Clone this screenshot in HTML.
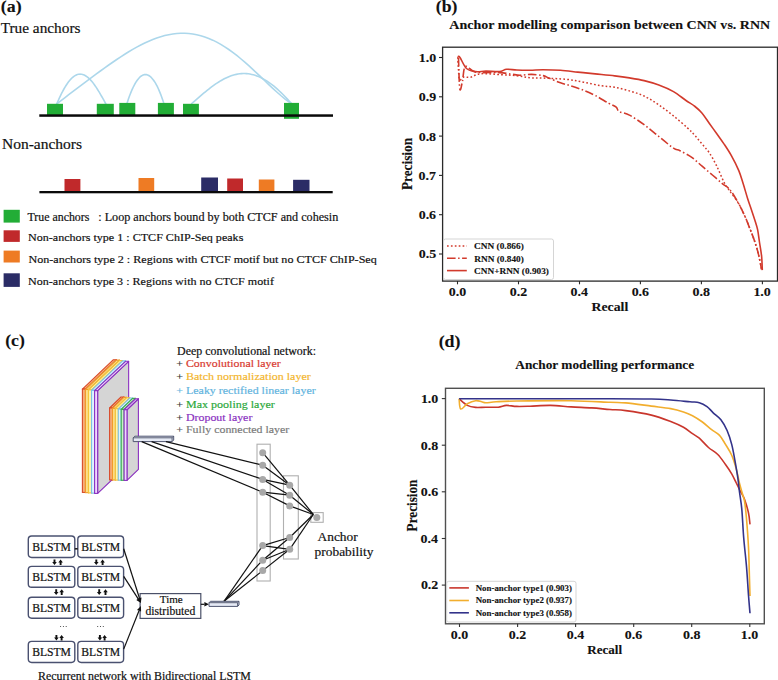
<!DOCTYPE html>
<html><head><meta charset="utf-8"><style>
html,body{margin:0;padding:0;background:#fff;}
body{width:778px;height:680px;overflow:hidden;}
svg{display:block;font-family:"Liberation Serif",serif;}
</style></head><body>
<svg width="778" height="680" viewBox="0 0 778 680" font-family="'Liberation Serif', serif">
<rect width="778" height="680" fill="#fff"/>
<g fill="none" stroke="#acd7eb" stroke-width="1.6" stroke-linecap="round">
<polyline points="56.70,103.96 60.70,100.85 64.70,97.76 68.71,94.70 72.71,91.65 76.71,88.61 80.71,85.59 84.71,82.58 88.71,79.59 92.72,76.61 96.72,73.66 100.72,70.74 104.72,67.85 108.72,65.01 112.72,62.22 116.73,59.50 120.73,56.84 124.73,54.27 128.73,51.79 132.73,49.42 136.73,47.16 140.74,45.03 144.74,43.04 148.74,41.20 152.74,39.52 156.74,38.02 160.74,36.70 164.75,35.58 168.75,34.67 172.75,33.97 176.75,33.49 180.75,33.24 184.75,33.24 188.76,33.47 192.76,33.95 196.76,34.69 200.76,35.68 204.76,36.92 208.76,38.41 212.77,40.15 216.77,42.14 220.77,44.37 224.77,46.83 228.77,49.51 232.77,52.40 236.78,55.48 240.78,58.75 244.78,62.16 248.78,65.72 252.78,69.38 256.78,73.13 260.79,76.94 264.79,80.76 268.79,84.57 272.79,88.32 276.79,91.98 280.79,95.50 284.80,98.82 288.80,101.90 292.80,104.68"/>
<polyline points="56.70,104.03 57.53,102.10 58.37,100.21 59.20,98.37 60.04,96.58 60.87,94.85 61.70,93.18 62.54,91.56 63.37,90.00 64.21,88.51 65.04,87.08 65.87,85.72 66.71,84.44 67.54,83.22 68.37,82.07 69.21,81.00 70.04,80.00 70.88,79.08 71.71,78.23 72.54,77.47 73.38,76.78 74.21,76.17 75.05,75.64 75.88,75.19 76.71,74.82 77.55,74.53 78.38,74.32 79.22,74.20 80.05,74.15 80.88,74.18 81.72,74.28 82.55,74.47 83.38,74.73 84.22,75.07 85.05,75.49 85.89,75.97 86.72,76.53 87.55,77.16 88.39,77.86 89.22,78.62 90.06,79.45 90.89,80.35 91.72,81.30 92.56,82.31 93.39,83.38 94.23,84.50 95.06,85.67 95.89,86.89 96.73,88.15 97.56,89.46 98.39,90.80 99.23,92.18 100.06,93.59 100.90,95.03 101.73,96.49 102.56,97.97 103.40,99.46 104.23,100.97 105.07,102.49 105.90,104.00"/>
<polyline points="127.10,103.02 127.72,101.13 128.34,99.30 128.96,97.53 129.58,95.84 130.20,94.20 130.82,92.64 131.44,91.13 132.06,89.69 132.68,88.32 133.30,87.02 133.92,85.77 134.54,84.60 135.16,83.49 135.78,82.44 136.41,81.46 137.03,80.55 137.65,79.70 138.27,78.91 138.89,78.19 139.51,77.54 140.13,76.95 140.75,76.43 141.37,75.97 141.99,75.58 142.61,75.25 143.23,74.99 143.85,74.79 144.47,74.66 145.09,74.59 145.71,74.59 146.33,74.65 146.95,74.78 147.57,74.98 148.19,75.24 148.81,75.56 149.43,75.96 150.05,76.41 150.67,76.93 151.29,77.52 151.91,78.17 152.53,78.89 153.15,79.67 153.77,80.52 154.39,81.43 155.02,82.41 155.64,83.45 156.26,84.56 156.88,85.74 157.50,86.98 158.12,88.28 158.74,89.65 159.36,91.09 159.98,92.59 160.60,94.15 161.22,95.79 161.84,97.48 162.46,99.24 163.08,101.07 163.70,102.96"/>
<polyline points="191.70,103.51 193.41,102.04 195.13,100.56 196.84,99.07 198.55,97.59 200.27,96.11 201.98,94.65 203.69,93.21 205.41,91.79 207.12,90.39 208.84,89.03 210.55,87.70 212.26,86.41 213.98,85.17 215.69,83.97 217.40,82.82 219.12,81.73 220.83,80.69 222.54,79.72 224.26,78.80 225.97,77.96 227.68,77.18 229.40,76.47 231.11,75.83 232.83,75.27 234.54,74.79 236.25,74.38 237.97,74.05 239.68,73.81 241.39,73.64 243.11,73.56 244.82,73.56 246.53,73.65 248.25,73.82 249.96,74.07 251.67,74.41 253.39,74.83 255.10,75.34 256.82,75.93 258.53,76.61 260.24,77.37 261.96,78.21 263.67,79.12 265.38,80.12 267.10,81.20 268.81,82.35 270.52,83.58 272.24,84.88 273.95,86.24 275.66,87.68 277.38,89.18 279.09,90.74 280.81,92.36 282.52,94.04 284.23,95.77 285.95,97.55 287.66,99.38 289.37,101.25 291.09,103.16 292.80,105.10"/>
</g>
<rect x="47" y="103.8" width="16" height="11.200000000000003" fill="#22ad36"/>
<rect x="96.8" y="103.8" width="17.0" height="11.200000000000003" fill="#22ad36"/>
<rect x="119.3" y="102.9" width="16.000000000000014" height="12.099999999999994" fill="#22ad36"/>
<rect x="157.9" y="102.9" width="16.0" height="12.099999999999994" fill="#22ad36"/>
<rect x="183" y="103.8" width="15.900000000000006" height="11.200000000000003" fill="#22ad36"/>
<rect x="284" y="102.9" width="15" height="15.899999999999991" fill="#22ad36"/>
<rect x="39.3" y="114.3" width="293.7" height="2.5" fill="#0a0a0a"/>
<rect x="64.5" y="179" width="15.900000000000006" height="13" fill="#c0292b"/>
<rect x="138.5" y="178" width="15.699999999999989" height="14" fill="#ee7b24"/>
<rect x="201.2" y="177.5" width="16.80000000000001" height="14.5" fill="#2b2c66"/>
<rect x="227.2" y="178.5" width="15.800000000000011" height="13.5" fill="#c0292b"/>
<rect x="258.8" y="179.5" width="15.599999999999966" height="12.5" fill="#ee7b24"/>
<rect x="293.1" y="179.8" width="16.399999999999977" height="12.199999999999989" fill="#2b2c66"/>
<rect x="39.4" y="191" width="293.3" height="2.3" fill="#0a0a0a"/>
<rect x="3.6" y="209.8" width="16.2" height="12.799999999999983" fill="#22ad36"/>
<rect x="3.6" y="230.3" width="16.2" height="11.599999999999994" fill="#c0292b"/>
<rect x="3.6" y="250.6" width="16.2" height="11.900000000000006" fill="#ee7b24"/>
<rect x="3.6" y="273.3" width="16.2" height="13.599999999999966" fill="#2b2c66"/>
<path d="M457.70,57.20 C458.05,57.20 458.33,55.32 459.80,57.20 C461.27,59.08 463.85,66.10 466.50,68.50 C469.15,70.90 472.45,71.17 475.70,71.60 C478.95,72.03 482.05,71.10 486.00,71.10 C489.95,71.10 495.97,71.90 499.40,71.60 C502.83,71.30 503.70,69.57 506.60,69.30 C509.50,69.03 512.90,69.85 516.80,70.00 C520.70,70.15 525.62,70.23 530.00,70.20 C534.38,70.17 538.02,69.78 543.10,69.80 C548.18,69.82 554.72,69.92 560.50,70.30 C566.28,70.68 572.02,71.50 577.80,72.10 C583.58,72.70 589.05,73.27 595.20,73.90 C601.35,74.53 609.00,75.23 614.70,75.90 C620.40,76.57 624.50,77.12 629.40,77.90 C634.30,78.68 639.20,79.42 644.10,80.60 C649.00,81.78 653.90,83.17 658.80,85.00 C663.70,86.83 668.97,89.02 673.50,91.60 C678.03,94.18 682.42,98.02 686.00,100.50 C689.58,102.98 692.32,104.38 695.00,106.50 C697.68,108.62 699.70,110.37 702.10,113.20 C704.50,116.03 706.95,120.07 709.40,123.50 C711.85,126.93 714.35,130.37 716.80,133.80 C719.25,137.23 721.65,140.42 724.10,144.10 C726.55,147.78 729.05,151.48 731.50,155.90 C733.95,160.32 736.85,165.95 738.80,170.60 C740.75,175.25 741.73,179.15 743.20,183.80 C744.67,188.45 746.22,194.13 747.60,198.50 C748.98,202.87 750.30,206.42 751.50,210.00 C752.70,213.58 753.78,216.72 754.80,220.00 C755.82,223.28 756.80,225.87 757.60,229.70 C758.40,233.53 758.93,238.58 759.60,243.00 C760.27,247.42 761.15,251.68 761.60,256.20 C762.05,260.72 762.18,267.78 762.30,270.10" fill="none" stroke="#d23a2c" stroke-width="1.6" stroke-linejoin="round"/>
<path d="M457.70,57.20 C457.83,59.33 458.20,66.20 458.50,70.00 C458.80,73.80 458.68,78.80 459.50,80.00 C460.32,81.20 461.55,77.67 463.40,77.20 C465.25,76.73 467.70,77.78 470.60,77.20 C473.50,76.62 475.67,74.12 480.80,73.70 C485.93,73.28 495.40,74.37 501.40,74.70 C507.40,75.03 512.03,75.18 516.80,75.70 C521.57,76.22 525.62,77.40 530.00,77.80 C534.38,78.20 537.05,77.85 543.10,78.10 C549.15,78.35 559.55,78.62 566.30,79.30 C573.05,79.98 577.82,81.13 583.60,82.20 C589.38,83.27 595.82,84.87 601.00,85.70 C606.18,86.53 609.97,86.33 614.70,87.20 C619.43,88.07 624.50,89.43 629.40,90.90 C634.30,92.37 639.20,93.67 644.10,96.00 C649.00,98.33 653.90,101.58 658.80,104.90 C663.70,108.22 668.73,112.07 673.50,115.90 C678.27,119.73 683.87,124.67 687.40,127.90 C690.93,131.13 692.25,132.60 694.70,135.30 C697.15,138.00 699.65,141.17 702.10,144.10 C704.55,147.03 706.95,149.22 709.40,152.90 C711.85,156.58 714.35,161.28 716.80,166.20 C719.25,171.12 722.05,178.43 724.10,182.40 C726.15,186.37 726.72,186.53 729.10,190.00 C731.48,193.47 735.75,198.78 738.40,203.20 C741.05,207.62 743.02,212.08 745.00,216.50 C746.98,220.92 748.75,225.73 750.30,229.70 C751.85,233.67 752.97,236.32 754.30,240.30 C755.63,244.28 757.08,248.73 758.30,253.60 C759.52,258.47 761.05,266.85 761.60,269.50" fill="none" stroke="#d23a2c" stroke-width="1.5" stroke-dasharray="1.7,2.2"/>
<path d="M458.50,58.00 C458.72,63.17 459.13,85.17 459.80,89.00 C460.47,92.83 461.57,84.75 462.50,81.00 C463.43,77.25 463.20,67.98 465.40,66.50 C467.60,65.02 470.03,71.08 475.70,72.10 C481.37,73.12 493.40,72.25 499.40,72.60 C505.40,72.95 508.27,73.77 511.70,74.20 C515.13,74.63 516.68,75.17 520.00,75.20 C523.32,75.23 527.75,74.33 531.60,74.40 C535.45,74.47 540.22,74.98 543.10,75.60 C545.98,76.22 546.00,76.90 548.90,78.10 C551.80,79.30 556.63,81.45 560.50,82.80 C564.37,84.15 568.25,84.95 572.10,86.20 C575.95,87.45 579.75,88.75 583.60,90.30 C587.45,91.85 591.00,93.32 595.20,95.50 C599.40,97.68 605.30,101.47 608.80,103.40 C612.30,105.33 614.48,105.75 616.20,107.10 C617.92,108.45 616.90,110.17 619.10,111.50 C621.30,112.83 625.23,112.90 629.40,115.10 C633.57,117.30 639.20,121.13 644.10,124.70 C649.00,128.27 653.90,132.58 658.80,136.50 C663.70,140.42 669.97,145.83 673.50,148.20 C677.03,150.57 676.95,149.17 680.00,150.70 C683.05,152.23 688.12,154.82 691.80,157.40 C695.48,159.98 698.67,163.27 702.10,166.20 C705.53,169.13 708.98,172.07 712.40,175.00 C715.82,177.93 719.67,181.35 722.60,183.80 C725.53,186.25 727.37,186.47 730.00,189.70 C732.63,192.93 735.90,198.73 738.40,203.20 C740.90,207.67 743.02,212.08 745.00,216.50 C746.98,220.92 748.75,225.73 750.30,229.70 C751.85,233.67 752.97,236.32 754.30,240.30 C755.63,244.28 757.08,248.73 758.30,253.60 C759.52,258.47 761.05,266.85 761.60,269.50" fill="none" stroke="#d23a2c" stroke-width="1.6" stroke-dasharray="8.6,2.5,1.5,2.5"/>
<rect x="442.6" y="47.2" width="334.9" height="233.9" fill="none" stroke="#2a2a2a" stroke-width="1.3"/>
<line x1="439" y1="57.5" x2="442.6" y2="57.5" stroke="#2a2a2a" stroke-width="1.1"/>
<line x1="439" y1="96.8" x2="442.6" y2="96.8" stroke="#2a2a2a" stroke-width="1.1"/>
<line x1="439" y1="136.1" x2="442.6" y2="136.1" stroke="#2a2a2a" stroke-width="1.1"/>
<line x1="439" y1="175.4" x2="442.6" y2="175.4" stroke="#2a2a2a" stroke-width="1.1"/>
<line x1="439" y1="214.7" x2="442.6" y2="214.7" stroke="#2a2a2a" stroke-width="1.1"/>
<line x1="439" y1="254.0" x2="442.6" y2="254.0" stroke="#2a2a2a" stroke-width="1.1"/>
<line x1="457.5" y1="281" x2="457.5" y2="284.3" stroke="#2a2a2a" stroke-width="1.1"/>
<line x1="518.5" y1="281" x2="518.5" y2="284.3" stroke="#2a2a2a" stroke-width="1.1"/>
<line x1="579.5" y1="281" x2="579.5" y2="284.3" stroke="#2a2a2a" stroke-width="1.1"/>
<line x1="640.4" y1="281" x2="640.4" y2="284.3" stroke="#2a2a2a" stroke-width="1.1"/>
<line x1="701.4" y1="281" x2="701.4" y2="284.3" stroke="#2a2a2a" stroke-width="1.1"/>
<line x1="762.4" y1="281" x2="762.4" y2="284.3" stroke="#2a2a2a" stroke-width="1.1"/>
<rect x="443.5" y="239" width="110" height="40.5" rx="2" fill="#fff" fill-opacity="0.85" stroke="#d0d0d0" stroke-width="0.9"/>
<line x1="447" y1="245.9" x2="466.8" y2="245.9" stroke="#d23a2c" stroke-width="1.5" stroke-dasharray="1.7,2.2"/>
<line x1="447" y1="258.3" x2="466.8" y2="258.3" stroke="#d23a2c" stroke-width="1.6" stroke-dasharray="8.6,2.5,1.5,2.5"/>
<line x1="447" y1="270.6" x2="466.8" y2="270.6" stroke="#d23a2c" stroke-width="1.6"/>
<path d="M459.10,398.70 C460.47,399.82 464.55,403.95 467.30,405.40 C470.05,406.85 472.52,407.10 475.60,407.40 C478.68,407.70 482.03,407.23 485.80,407.20 C489.57,407.17 494.77,407.50 498.20,407.20 C501.63,406.90 503.32,405.53 506.40,405.40 C509.48,405.27 512.77,406.27 516.70,406.40 C520.63,406.53 524.35,406.37 530.00,406.20 C535.65,406.03 543.75,405.28 550.60,405.40 C557.45,405.52 564.25,406.48 571.10,406.90 C577.95,407.32 585.22,407.47 591.70,407.90 C598.18,408.33 604.33,409.05 610.00,409.50 C615.67,409.95 618.80,409.67 625.70,410.60 C632.60,411.53 643.90,413.28 651.40,415.10 C658.90,416.92 665.35,419.47 670.70,421.50 C676.05,423.53 679.87,425.27 683.50,427.30 C687.13,429.33 689.87,431.88 692.50,433.70 C695.13,435.52 696.63,435.90 699.30,438.20 C701.97,440.50 705.42,444.78 708.50,447.50 C711.58,450.22 714.97,451.67 717.80,454.50 C720.63,457.33 723.18,461.28 725.50,464.50 C727.82,467.72 729.90,470.72 731.70,473.80 C733.50,476.88 734.75,479.92 736.30,483.00 C737.85,486.08 739.62,489.53 741.00,492.30 C742.38,495.07 743.35,496.15 744.60,499.60 C745.85,503.05 747.60,508.87 748.50,513.00 C749.40,517.13 749.75,522.50 750.00,524.40" fill="none" stroke="#c9362c" stroke-width="1.6" stroke-linejoin="round"/>
<path d="M459.10,398.70 C459.37,400.42 459.33,408.15 460.70,409.00 C462.07,409.85 464.82,405.18 467.30,403.80 C469.78,402.42 473.20,401.03 475.60,400.70 C478.00,400.37 480.00,401.45 481.70,401.80 C483.40,402.15 483.40,402.80 485.80,402.80 C488.20,402.80 490.95,402.10 496.10,401.80 C501.25,401.50 504.20,401.18 516.70,401.00 C529.20,400.82 555.55,400.48 571.10,400.70 C586.65,400.92 600.90,401.93 610.00,402.30 C619.10,402.67 618.80,402.27 625.70,402.90 C632.60,403.53 643.90,405.15 651.40,406.10 C658.90,407.05 665.35,407.63 670.70,408.60 C676.05,409.57 679.87,410.72 683.50,411.90 C687.13,413.08 689.35,414.02 692.50,415.70 C695.65,417.38 699.22,419.67 702.40,422.00 C705.58,424.33 708.78,427.52 711.60,429.70 C714.42,431.88 716.98,432.65 719.30,435.10 C721.62,437.55 723.43,441.05 725.50,444.40 C727.57,447.75 729.90,451.08 731.70,455.20 C733.50,459.32 735.02,464.47 736.30,469.10 C737.58,473.73 738.37,478.85 739.40,483.00 C740.43,487.15 741.63,490.92 742.50,494.00 C743.37,497.08 743.93,497.38 744.60,501.50 C745.27,505.62 745.85,511.05 746.50,518.70 C747.15,526.35 748.02,537.85 748.50,547.40 C748.98,556.95 749.15,567.88 749.40,576.00 C749.65,584.12 749.90,592.75 750.00,596.10" fill="none" stroke="#f2ae2e" stroke-width="1.6" stroke-linejoin="round"/>
<path d="M459.10,398.70 C484.25,398.70 577.95,398.65 610.00,398.70 C642.05,398.75 641.28,398.78 651.40,399.00 C661.52,399.22 664.27,399.53 670.70,400.00 C677.13,400.47 685.23,401.35 690.00,401.80 C694.77,402.25 696.47,401.90 699.30,402.70 C702.13,403.50 704.68,404.92 707.00,406.60 C709.32,408.28 710.88,410.62 713.20,412.80 C715.52,414.98 718.58,416.75 720.90,419.70 C723.22,422.65 725.30,426.38 727.10,430.50 C728.90,434.62 730.42,439.50 731.70,444.40 C732.98,449.30 733.77,454.23 734.80,459.90 C735.83,465.57 737.12,473.05 737.90,478.40 C738.68,483.75 738.85,486.88 739.50,492.00 C740.15,497.12 741.10,501.47 741.80,509.10 C742.50,516.73 742.92,528.23 743.70,537.80 C744.48,547.37 745.70,556.93 746.50,566.50 C747.30,576.07 747.92,587.40 748.50,595.20 C749.08,603.00 749.75,610.28 750.00,613.30" fill="none" stroke="#33338a" stroke-width="1.6" stroke-linejoin="round"/>
<rect x="445.5" y="388.3" width="318.8" height="235.5" fill="none" stroke="#505050" stroke-width="1.4"/>
<line x1="441.8" y1="398.6" x2="445.5" y2="398.6" stroke="#333" stroke-width="1.1"/>
<line x1="441.8" y1="445.2" x2="445.5" y2="445.2" stroke="#333" stroke-width="1.1"/>
<line x1="441.8" y1="491.8" x2="445.5" y2="491.8" stroke="#333" stroke-width="1.1"/>
<line x1="441.8" y1="538.5" x2="445.5" y2="538.5" stroke="#333" stroke-width="1.1"/>
<line x1="441.8" y1="585.1" x2="445.5" y2="585.1" stroke="#333" stroke-width="1.1"/>
<line x1="459.5" y1="623.8" x2="459.5" y2="627" stroke="#333" stroke-width="1.1"/>
<line x1="517.6" y1="623.8" x2="517.6" y2="627" stroke="#333" stroke-width="1.1"/>
<line x1="575.6" y1="623.8" x2="575.6" y2="627" stroke="#333" stroke-width="1.1"/>
<line x1="633.7" y1="623.8" x2="633.7" y2="627" stroke="#333" stroke-width="1.1"/>
<line x1="691.7" y1="623.8" x2="691.7" y2="627" stroke="#333" stroke-width="1.1"/>
<line x1="749.8" y1="623.8" x2="749.8" y2="627" stroke="#333" stroke-width="1.1"/>
<rect x="446.7" y="581.3" width="129.3" height="40.7" rx="2" fill="#fff" fill-opacity="0.85" stroke="#d0d0d0" stroke-width="0.9"/>
<line x1="449.3" y1="587.9" x2="468.9" y2="587.9" stroke="#c9362c" stroke-width="1.6"/>
<line x1="449.3" y1="600.5" x2="468.9" y2="600.5" stroke="#f2ae2e" stroke-width="1.6"/>
<line x1="449.3" y1="612.8" x2="468.9" y2="612.8" stroke="#33338a" stroke-width="1.6"/>
<polygon points="85.45,389.10 116.45,359.70 116.45,463.00 85.45,492.40" fill="#d5d5d5" stroke="#d84a2a" stroke-width="1.1" stroke-linejoin="round"/><polygon points="82.40,389.10 85.45,389.10 116.45,359.70 113.40,359.70" fill="#f7b07a" stroke="#d84a2a" stroke-width="1.1" stroke-linejoin="round"/><rect x="82.40" y="389.10" width="3.05" height="103.30" fill="#f7b07a" stroke="#d84a2a" stroke-width="1.1"/>
<polygon points="88.50,389.50 119.50,360.10 119.50,463.25 88.50,492.65" fill="#d5d5d5" stroke="#f19a2a" stroke-width="1.1" stroke-linejoin="round"/><polygon points="85.45,389.50 88.50,389.50 119.50,360.10 116.45,360.10" fill="#fbe08a" stroke="#f19a2a" stroke-width="1.1" stroke-linejoin="round"/><rect x="85.45" y="389.50" width="3.05" height="103.15" fill="#fbe08a" stroke="#f19a2a" stroke-width="1.1"/>
<polygon points="91.55,389.90 122.55,360.50 122.55,463.50 91.55,492.90" fill="#d5d5d5" stroke="#f3c63a" stroke-width="1.1" stroke-linejoin="round"/><polygon points="88.50,389.90 91.55,389.90 122.55,360.50 119.50,360.50" fill="#fff3b0" stroke="#f3c63a" stroke-width="1.1" stroke-linejoin="round"/><rect x="88.50" y="389.90" width="3.05" height="103.00" fill="#fff3b0" stroke="#f3c63a" stroke-width="1.1"/>
<polygon points="94.60,390.30 125.60,360.90 125.60,463.75 94.60,493.15" fill="#d5d5d5" stroke="#7cc0e6" stroke-width="1.1" stroke-linejoin="round"/><polygon points="91.55,390.30 94.60,390.30 125.60,360.90 122.55,360.90" fill="#e0f4ff" stroke="#7cc0e6" stroke-width="1.1" stroke-linejoin="round"/><rect x="91.55" y="390.30" width="3.05" height="102.85" fill="#e0f4ff" stroke="#7cc0e6" stroke-width="1.1"/>
<polygon points="97.65,390.70 128.65,361.30 128.65,464.00 97.65,493.40" fill="#d5d5d5" stroke="#8a30bf" stroke-width="1.1" stroke-linejoin="round"/><polygon points="94.60,390.70 97.65,390.70 128.65,361.30 125.60,361.30" fill="#f0d8ff" stroke="#8a30bf" stroke-width="1.1" stroke-linejoin="round"/><rect x="94.60" y="390.70" width="3.05" height="102.70" fill="#f0d8ff" stroke="#8a30bf" stroke-width="1.1"/>
<polygon points="112.50,408.00 123.90,397.00 123.90,468.90 112.50,479.90" fill="#d5d5d5" stroke="#d84a2a" stroke-width="1.1" stroke-linejoin="round"/><polygon points="109.60,408.00 112.50,408.00 123.90,397.00 121.00,397.00" fill="#f7b07a" stroke="#d84a2a" stroke-width="1.1" stroke-linejoin="round"/><rect x="109.60" y="408.00" width="2.9" height="71.90" fill="#f7b07a" stroke="#d84a2a" stroke-width="1.1"/>
<polygon points="115.40,408.35 126.80,397.35 126.80,469.00 115.40,480.00" fill="#d5d5d5" stroke="#f19a2a" stroke-width="1.1" stroke-linejoin="round"/><polygon points="112.50,408.35 115.40,408.35 126.80,397.35 123.90,397.35" fill="#fbe08a" stroke="#f19a2a" stroke-width="1.1" stroke-linejoin="round"/><rect x="112.50" y="408.35" width="2.9" height="71.65" fill="#fbe08a" stroke="#f19a2a" stroke-width="1.1"/>
<polygon points="118.30,408.70 129.70,397.70 129.70,469.10 118.30,480.10" fill="#d5d5d5" stroke="#f3c63a" stroke-width="1.1" stroke-linejoin="round"/><polygon points="115.40,408.70 118.30,408.70 129.70,397.70 126.80,397.70" fill="#fff3b0" stroke="#f3c63a" stroke-width="1.1" stroke-linejoin="round"/><rect x="115.40" y="408.70" width="2.9" height="71.40" fill="#fff3b0" stroke="#f3c63a" stroke-width="1.1"/>
<polygon points="121.20,409.05 132.60,398.05 132.60,469.20 121.20,480.20" fill="#d5d5d5" stroke="#7cc0e6" stroke-width="1.1" stroke-linejoin="round"/><polygon points="118.30,409.05 121.20,409.05 132.60,398.05 129.70,398.05" fill="#e0f4ff" stroke="#7cc0e6" stroke-width="1.1" stroke-linejoin="round"/><rect x="118.30" y="409.05" width="2.9" height="71.15" fill="#e0f4ff" stroke="#7cc0e6" stroke-width="1.1"/>
<polygon points="124.10,409.40 135.50,398.40 135.50,469.30 124.10,480.30" fill="#d5d5d5" stroke="#3aae4a" stroke-width="1.1" stroke-linejoin="round"/><polygon points="121.20,409.40 124.10,409.40 135.50,398.40 132.60,398.40" fill="#c8f0c8" stroke="#3aae4a" stroke-width="1.1" stroke-linejoin="round"/><rect x="121.20" y="409.40" width="2.9" height="70.90" fill="#c8f0c8" stroke="#3aae4a" stroke-width="1.1"/>
<polygon points="127.00,409.75 138.40,398.75 138.40,469.40 127.00,480.40" fill="#d5d5d5" stroke="#8a30bf" stroke-width="1.1" stroke-linejoin="round"/><polygon points="124.10,409.75 127.00,409.75 138.40,398.75 135.50,398.75" fill="#f0d8ff" stroke="#8a30bf" stroke-width="1.1" stroke-linejoin="round"/><rect x="124.10" y="409.75" width="2.9" height="70.65" fill="#f0d8ff" stroke="#8a30bf" stroke-width="1.1"/>
<polygon points="133.2,437.8 134.79999999999998,436.2 173.7,436.2 173.7,440.0 172.1,441.6 133.2,441.6" fill="#e6eaf5" stroke="#4f5570" stroke-width="1.0"/>
<line x1="133.2" y1="437.8" x2="172.1" y2="437.8" stroke="#4a5068" stroke-width="0.9"/>
<line x1="172.1" y1="437.8" x2="172.1" y2="441.6" stroke="#4a5068" stroke-width="0.9"/>
<line x1="172.1" y1="437.8" x2="173.7" y2="436.2" stroke="#4a5068" stroke-width="0.9"/>
<rect x="257" y="444.2" width="13.2" height="136.8" fill="none" stroke="#b0b0b0" stroke-width="1.1"/>
<rect x="283.5" y="475.8" width="14.8" height="83.2" fill="none" stroke="#b0b0b0" stroke-width="1.1"/>
<rect x="310.8" y="512.6" width="12.4" height="9.7" fill="none" stroke="#b0b0b0" stroke-width="1.1"/>
<line x1="141.7" y1="441.6" x2="262.7" y2="492.2" stroke="#111" stroke-width="1.2"/>
<line x1="151.6" y1="441.6" x2="262.7" y2="479.4" stroke="#111" stroke-width="1.2"/>
<line x1="166" y1="441.6" x2="262.7" y2="465.2" stroke="#111" stroke-width="1.2"/>
<line x1="262.7" y1="452.7" x2="289.7" y2="485.2" stroke="#111" stroke-width="1.2"/>
<line x1="262.7" y1="465.2" x2="289.7" y2="485.2" stroke="#111" stroke-width="1.2"/>
<line x1="262.7" y1="479.4" x2="289.7" y2="485.2" stroke="#111" stroke-width="1.2"/>
<line x1="262.7" y1="479.4" x2="289.7" y2="495.2" stroke="#111" stroke-width="1.2"/>
<line x1="262.7" y1="492.2" x2="289.7" y2="495.2" stroke="#111" stroke-width="1.2"/>
<line x1="262.7" y1="492.2" x2="289.7" y2="505.9" stroke="#111" stroke-width="1.2"/>
<line x1="262.7" y1="545.6" x2="289.7" y2="537.5" stroke="#111" stroke-width="1.2"/>
<line x1="262.7" y1="545.6" x2="289.7" y2="549.3" stroke="#111" stroke-width="1.2"/>
<line x1="262.7" y1="560.2" x2="289.7" y2="537.5" stroke="#111" stroke-width="1.2"/>
<line x1="262.7" y1="560.2" x2="289.7" y2="549.3" stroke="#111" stroke-width="1.2"/>
<line x1="262.7" y1="570.6" x2="289.7" y2="549.3" stroke="#111" stroke-width="1.2"/>
<line x1="289.7" y1="485.2" x2="313.3" y2="514.5" stroke="#111" stroke-width="1.2"/>
<line x1="289.7" y1="495.2" x2="313.3" y2="514.5" stroke="#111" stroke-width="1.2"/>
<line x1="289.7" y1="505.9" x2="313.3" y2="514.5" stroke="#111" stroke-width="1.2"/>
<line x1="289.7" y1="537.5" x2="313.3" y2="514.5" stroke="#111" stroke-width="1.2"/>
<line x1="289.7" y1="549.3" x2="313.3" y2="514.5" stroke="#111" stroke-width="1.2"/>
<line x1="224" y1="601.3" x2="262.7" y2="545.6" stroke="#111" stroke-width="1.2"/>
<line x1="224" y1="601.3" x2="262.7" y2="560.2" stroke="#111" stroke-width="1.2"/>
<line x1="224" y1="601.3" x2="262.7" y2="570.6" stroke="#111" stroke-width="1.2"/>
<circle cx="262.7" cy="452.7" r="3.5" fill="#a8a8a8"/>
<circle cx="262.7" cy="465.2" r="3.5" fill="#a8a8a8"/>
<circle cx="262.7" cy="479.4" r="3.5" fill="#a8a8a8"/>
<circle cx="262.7" cy="492.2" r="3.5" fill="#a8a8a8"/>
<circle cx="262.7" cy="545.6" r="3.5" fill="#a8a8a8"/>
<circle cx="262.7" cy="560.2" r="3.5" fill="#a8a8a8"/>
<circle cx="262.7" cy="570.6" r="3.5" fill="#a8a8a8"/>
<circle cx="289.7" cy="485.2" r="3.5" fill="#a8a8a8"/>
<circle cx="289.7" cy="495.2" r="3.5" fill="#a8a8a8"/>
<circle cx="289.7" cy="505.9" r="3.5" fill="#a8a8a8"/>
<circle cx="289.7" cy="537.5" r="3.5" fill="#a8a8a8"/>
<circle cx="289.7" cy="549.3" r="3.5" fill="#a8a8a8"/>
<circle cx="316.8" cy="517.6" r="3.5" fill="#a8a8a8"/>
<rect x="28.3" y="536.0" width="46.5" height="21.5" rx="3.4" fill="#fff" stroke="#4a5170" stroke-width="1.4"/>
<rect x="77.8" y="536.0" width="45.8" height="21.5" rx="3.4" fill="#fff" stroke="#4a5170" stroke-width="1.4"/>
<rect x="28.3" y="566.4" width="46.5" height="20.9" rx="3.4" fill="#fff" stroke="#4a5170" stroke-width="1.4"/>
<rect x="77.8" y="566.4" width="45.8" height="20.9" rx="3.4" fill="#fff" stroke="#4a5170" stroke-width="1.4"/>
<rect x="28.3" y="597.3" width="46.5" height="20.9" rx="3.4" fill="#fff" stroke="#4a5170" stroke-width="1.4"/>
<rect x="77.8" y="597.3" width="45.8" height="20.9" rx="3.4" fill="#fff" stroke="#4a5170" stroke-width="1.4"/>
<rect x="28.3" y="641.4" width="46.5" height="21.1" rx="3.4" fill="#fff" stroke="#4a5170" stroke-width="1.4"/>
<rect x="77.8" y="641.4" width="45.8" height="21.1" rx="3.4" fill="#fff" stroke="#4a5170" stroke-width="1.4"/>
<line x1="74.8" y1="548.8" x2="77.8" y2="548.8" stroke="#222" stroke-width="1.6"/>
<polygon points="53.55,559.6 55.45,559.6 55.45,562.0 56.8,562.0 54.5,565 52.2,562.0 53.55,562.0" fill="#111"/>
<polygon points="59.65,565 61.550000000000004,565 61.550000000000004,562.6 62.9,562.6 60.6,559.6 58.300000000000004,562.6 59.65,562.6" fill="#111"/>
<polygon points="95.35,559.6 97.25,559.6 97.25,562.0 98.6,562.0 96.3,565 94.0,562.0 95.35,562.0" fill="#111"/>
<polygon points="101.64999999999999,565 103.55,565 103.55,562.6 104.89999999999999,562.6 102.6,559.6 100.3,562.6 101.64999999999999,562.6" fill="#111"/>
<polygon points="55.25,589.3 57.150000000000006,589.3 57.150000000000006,592.1 58.5,592.1 56.2,595.1 53.900000000000006,592.1 55.25,592.1" fill="#111"/>
<polygon points="60.75,595.1 62.650000000000006,595.1 62.650000000000006,592.3 64.0,592.3 61.7,589.3 59.400000000000006,592.3 60.75,592.3" fill="#111"/>
<polygon points="98.25,589.3 100.15,589.3 100.15,592.1 101.5,592.1 99.2,595.1 96.9,592.1 98.25,592.1" fill="#111"/>
<polygon points="104.55,595.1 106.45,595.1 106.45,592.3 107.8,592.3 105.5,589.3 103.2,592.3 104.55,592.3" fill="#111"/>
<polygon points="55.449999999999996,635 57.35,635 57.35,637.4 58.699999999999996,637.4 56.4,640.4 54.1,637.4 55.449999999999996,637.4" fill="#111"/>
<polygon points="60.65,640.4 62.550000000000004,640.4 62.550000000000004,638.0 63.9,638.0 61.6,635 59.300000000000004,638.0 60.65,638.0" fill="#111"/>
<polygon points="98.95,635 100.85000000000001,635 100.85000000000001,637.4 102.2,637.4 99.9,640.4 97.60000000000001,637.4 98.95,637.4" fill="#111"/>
<polygon points="103.64999999999999,640.4 105.55,640.4 105.55,638.0 106.89999999999999,638.0 104.6,635 102.3,638.0 103.64999999999999,638.0" fill="#111"/>
<circle cx="60.6" cy="626.5" r="0.55" fill="#333"/>
<circle cx="63.4" cy="626.5" r="0.55" fill="#333"/>
<circle cx="66.2" cy="626.5" r="0.55" fill="#333"/>
<circle cx="97.7" cy="626.5" r="0.55" fill="#333"/>
<circle cx="100.5" cy="626.5" r="0.55" fill="#333"/>
<circle cx="103.3" cy="626.5" r="0.55" fill="#333"/>
<rect x="140.1" y="593.6" width="60.7" height="24.8" fill="#fff" stroke="#4a5068" stroke-width="1.2"/>
<line x1="123.7" y1="548.8" x2="139.4" y2="598.0" stroke="#111" stroke-width="1.2"/>
<polygon points="140.9,602.8 137.3,598.7 141.5,597.4" fill="#111"/>
<line x1="123.7" y1="576.3" x2="138.2" y2="598.8" stroke="#111" stroke-width="1.2"/>
<polygon points="140.9,603 136.3,600.0 140.0,597.6" fill="#111"/>
<line x1="123.7" y1="649.1" x2="139.0" y2="610.7" stroke="#111" stroke-width="1.2"/>
<polygon points="140.9,606.1 141.1,611.6 137.0,609.9" fill="#111"/>
<line x1="200.8" y1="604.3" x2="204.4" y2="604.3" stroke="#111" stroke-width="1.2"/>
<polygon points="208.9,604.3 204.4,606.5 204.4,602.1" fill="#111"/>
<polygon points="209,602.6999999999999 210.4,601.3 239,601.3 239,605.0 237.6,606.4 209,606.4" fill="#e6eaf5" stroke="#4f5570" stroke-width="1.0"/>
<line x1="209" y1="602.6999999999999" x2="237.6" y2="602.6999999999999" stroke="#4a5068" stroke-width="0.9"/>
<line x1="237.6" y1="602.6999999999999" x2="237.6" y2="606.4" stroke="#4a5068" stroke-width="0.9"/>
<line x1="237.6" y1="602.6999999999999" x2="239" y2="601.3" stroke="#4a5068" stroke-width="0.9"/>
<text transform="translate(0.84,12.30) scale(1.0212,1)" font-size="17.50" font-weight="bold" fill="#111" stroke="#111" stroke-width="0.118">(a)</text>
<text transform="translate(0.64,32.80) scale(1.0697,1)" font-size="14.33" font-weight="normal" fill="#111" stroke="#111" stroke-width="0.187">True anchors</text>
<text transform="translate(1.98,148.70) scale(1.0711,1)" font-size="14.48" font-weight="normal" fill="#111" stroke="#111" stroke-width="0.187">Non-anchors</text>
<text transform="translate(27.51,221.20) scale(1.0336,1)" font-size="11.49" font-weight="normal" fill="#111" stroke="#111" stroke-width="0.194">True anchors</text>
<text transform="translate(98.28,221.20) scale(1.0570,1)" font-size="11.49" font-weight="normal" fill="#111" stroke="#111" stroke-width="0.189">: Loop anchors bound by both CTCF and cohesin</text>
<text transform="translate(27.99,240.80) scale(1.0797,1)" font-size="11.20" font-weight="normal" fill="#111" stroke="#111" stroke-width="0.185">Non-anchors type 1 : CTCF ChIP-Seq peaks</text>
<text transform="translate(28.49,262.80) scale(1.1115,1)" font-size="10.88" font-weight="normal" fill="#111" stroke="#111" stroke-width="0.180">Non-anchors type 2 : Regions with CTCF motif but no CTCF ChIP-Seq</text>
<text transform="translate(27.99,285.20) scale(1.1096,1)" font-size="10.88" font-weight="normal" fill="#111" stroke="#111" stroke-width="0.180">Non-anchors type 3 : Regions with no CTCF motif</text>
<text transform="translate(435.74,12.40) scale(1.0125,1)" font-size="17.50" font-weight="bold" fill="#111" stroke="#111" stroke-width="0.119">(b)</text>
<text transform="translate(449.31,28.60) scale(1.0675,1)" font-size="13.14" font-weight="bold" fill="#111" stroke="#111" stroke-width="0.112">Anchor modelling comparison between CNN vs. RNN</text>
<text transform="translate(591.57,311.20) scale(1.0599,1)" font-size="12.99" font-weight="bold" fill="#111" stroke="#111" stroke-width="0.113">Recall</text>
<text transform="translate(412.00,190.12) rotate(-90) scale(0.8921,1)" font-size="14.93" font-weight="bold" fill="#111" stroke="#111" stroke-width="0.135">Precision</text>
<text transform="translate(474.08,248.90) scale(1.0419,1)" font-size="8.96" font-weight="bold" fill="#111" stroke="#111" stroke-width="0.115">CNN (0.866)</text>
<text transform="translate(474.36,261.50) scale(1.0360,1)" font-size="8.96" font-weight="bold" fill="#111" stroke="#111" stroke-width="0.116">RNN (0.840)</text>
<text transform="translate(474.09,273.50) scale(1.0367,1)" font-size="8.96" font-weight="bold" fill="#111" stroke="#111" stroke-width="0.116">CNN+RNN (0.903)</text>
<text transform="translate(438.63,347.40) scale(1.0226,1)" font-size="17.50" font-weight="bold" fill="#111" stroke="#111" stroke-width="0.117">(d)</text>
<text transform="translate(515.32,369.40) scale(1.0301,1)" font-size="12.95" font-weight="bold" fill="#111" stroke="#111" stroke-width="0.116">Anchor modelling performance</text>
<text transform="translate(587.29,654.40) scale(1.0072,1)" font-size="12.99" font-weight="bold" fill="#111" stroke="#111" stroke-width="0.119">Recall</text>
<text transform="translate(416.70,531.41) rotate(-90) scale(0.8678,1)" font-size="15.23" font-weight="bold" fill="#111" stroke="#111" stroke-width="0.138">Precision</text>
<text transform="translate(475.67,591.10) scale(1.0824,1)" font-size="8.21" font-weight="bold" fill="#111" stroke="#111" stroke-width="0.111">Non-anchor type1 (0.903)</text>
<text transform="translate(475.67,603.30) scale(1.0824,1)" font-size="8.21" font-weight="bold" fill="#111" stroke="#111" stroke-width="0.111">Non-anchor type2 (0.937)</text>
<text transform="translate(475.67,615.80) scale(1.0824,1)" font-size="8.21" font-weight="bold" fill="#111" stroke="#111" stroke-width="0.111">Non-anchor type3 (0.958)</text>
<text transform="translate(5.24,345.70) scale(1.0097,1)" font-size="17.50" font-weight="bold" fill="#111" stroke="#111" stroke-width="0.119">(c)</text>
<text transform="translate(177.09,354.70) scale(1.0247,1)" font-size="11.64" font-weight="normal" fill="#111" stroke="#111" stroke-width="0.195">Deep convolutional network:</text>
<text transform="translate(176.26,367.20) scale(1.0620,1)" font-size="11.20" font-weight="normal" fill="#111" stroke="#111" stroke-width="0.188"><tspan fill="#333" stroke="#333">+ </tspan><tspan fill="#d8392e" stroke="#d8392e">Convolutional layer</tspan></text>
<text transform="translate(176.25,380.40) scale(1.0728,1)" font-size="11.20" font-weight="normal" fill="#111" stroke="#111" stroke-width="0.186"><tspan fill="#333" stroke="#333">+ </tspan><tspan fill="#f3b52c" stroke="#f3b52c">Batch normalization layer</tspan></text>
<text transform="translate(176.25,393.70) scale(1.0988,1)" font-size="10.88" font-weight="normal" fill="#111" stroke="#111" stroke-width="0.182"><tspan fill="#62b4de" stroke="#62b4de">+ </tspan><tspan fill="#62b4de" stroke="#62b4de">Leaky rectified linear layer</tspan></text>
<text transform="translate(176.25,407.60) scale(1.0721,1)" font-size="11.20" font-weight="normal" fill="#111" stroke="#111" stroke-width="0.187"><tspan fill="#333" stroke="#333">+ </tspan><tspan fill="#2aa83a" stroke="#2aa83a">Max pooling layer</tspan></text>
<text transform="translate(176.25,420.90) scale(1.0637,1)" font-size="11.20" font-weight="normal" fill="#111" stroke="#111" stroke-width="0.188"><tspan fill="#333" stroke="#333">+ </tspan><tspan fill="#8a30bf" stroke="#8a30bf">Dropout layer</tspan></text>
<text transform="translate(176.25,433.40) scale(1.0667,1)" font-size="11.20" font-weight="normal" fill="#111" stroke="#111" stroke-width="0.187"><tspan fill="#555" stroke="#555">+ </tspan><tspan fill="#7a7a7a" stroke="#7a7a7a">Fully connected layer</tspan></text>
<text transform="translate(317.52,540.60) scale(1.0579,1)" font-size="12.69" font-weight="normal" fill="#111" stroke="#111" stroke-width="0.189">Anchor</text>
<text transform="translate(314.58,556.20) scale(1.0700,1)" font-size="12.54" font-weight="normal" fill="#111" stroke="#111" stroke-width="0.187">probability</text>
<text transform="translate(159.83,602.80) scale(1.0097,1)" font-size="10.93" font-weight="normal" fill="#111" stroke="#111" stroke-width="0.198">Time</text>
<text transform="translate(145.48,615.20) scale(0.9521,1)" font-size="12.24" font-weight="normal" fill="#111" stroke="#111" stroke-width="0.210">distributed</text>
<text transform="translate(38.09,680.00) scale(1.0232,1)" font-size="11.64" font-weight="normal" fill="#111" stroke="#111" stroke-width="0.195">Recurrent network with Bidirectional LSTM</text>
<text transform="translate(32.15,550.60) scale(0.9675,1)" font-size="12.04" font-weight="normal" fill="#111" stroke="#111" stroke-width="0.207">BLSTM</text>
<text transform="translate(81.30,550.60) scale(0.9675,1)" font-size="12.04" font-weight="normal" fill="#111" stroke="#111" stroke-width="0.207">BLSTM</text>
<text transform="translate(32.15,581.00) scale(0.9675,1)" font-size="12.04" font-weight="normal" fill="#111" stroke="#111" stroke-width="0.207">BLSTM</text>
<text transform="translate(81.30,581.00) scale(0.9675,1)" font-size="12.04" font-weight="normal" fill="#111" stroke="#111" stroke-width="0.207">BLSTM</text>
<text transform="translate(32.15,611.90) scale(0.9675,1)" font-size="12.04" font-weight="normal" fill="#111" stroke="#111" stroke-width="0.207">BLSTM</text>
<text transform="translate(81.30,611.90) scale(0.9675,1)" font-size="12.04" font-weight="normal" fill="#111" stroke="#111" stroke-width="0.207">BLSTM</text>
<text transform="translate(32.15,656.00) scale(0.9675,1)" font-size="12.04" font-weight="normal" fill="#111" stroke="#111" stroke-width="0.207">BLSTM</text>
<text transform="translate(81.30,656.00) scale(0.9675,1)" font-size="12.04" font-weight="normal" fill="#111" stroke="#111" stroke-width="0.207">BLSTM</text>
<text transform="translate(418.79,61.90) scale(1.0921,1)" font-size="12.80" font-weight="bold" fill="#111" stroke="#111" stroke-width="0.110">1.0</text>
<text transform="translate(418.79,101.20) scale(1.0921,1)" font-size="12.80" font-weight="bold" fill="#111" stroke="#111" stroke-width="0.110">0.9</text>
<text transform="translate(418.65,140.50) scale(1.0921,1)" font-size="12.80" font-weight="bold" fill="#111" stroke="#111" stroke-width="0.110">0.8</text>
<text transform="translate(418.51,179.80) scale(1.0921,1)" font-size="12.80" font-weight="bold" fill="#111" stroke="#111" stroke-width="0.110">0.7</text>
<text transform="translate(418.65,219.10) scale(1.0921,1)" font-size="12.80" font-weight="bold" fill="#111" stroke="#111" stroke-width="0.110">0.6</text>
<text transform="translate(418.79,258.40) scale(1.0921,1)" font-size="12.80" font-weight="bold" fill="#111" stroke="#111" stroke-width="0.110">0.5</text>
<text transform="translate(448.76,295.80) scale(1.0921,1)" font-size="12.80" font-weight="bold" fill="#111" stroke="#111" stroke-width="0.110">0.0</text>
<text transform="translate(509.74,295.80) scale(1.0921,1)" font-size="12.80" font-weight="bold" fill="#111" stroke="#111" stroke-width="0.110">0.2</text>
<text transform="translate(570.58,295.80) scale(1.0921,1)" font-size="12.80" font-weight="bold" fill="#111" stroke="#111" stroke-width="0.110">0.4</text>
<text transform="translate(631.63,295.80) scale(1.0921,1)" font-size="12.80" font-weight="bold" fill="#111" stroke="#111" stroke-width="0.110">0.6</text>
<text transform="translate(692.61,295.80) scale(1.0921,1)" font-size="12.80" font-weight="bold" fill="#111" stroke="#111" stroke-width="0.110">0.8</text>
<text transform="translate(753.38,295.80) scale(1.0921,1)" font-size="12.80" font-weight="bold" fill="#111" stroke="#111" stroke-width="0.110">1.0</text>
<text transform="translate(420.89,403.00) scale(1.0921,1)" font-size="12.80" font-weight="bold" fill="#111" stroke="#111" stroke-width="0.110">1.0</text>
<text transform="translate(420.75,449.62) scale(1.0921,1)" font-size="12.80" font-weight="bold" fill="#111" stroke="#111" stroke-width="0.110">0.8</text>
<text transform="translate(420.75,496.24) scale(1.0921,1)" font-size="12.80" font-weight="bold" fill="#111" stroke="#111" stroke-width="0.110">0.6</text>
<text transform="translate(420.61,542.86) scale(1.0921,1)" font-size="12.80" font-weight="bold" fill="#111" stroke="#111" stroke-width="0.110">0.4</text>
<text transform="translate(420.89,589.48) scale(1.0921,1)" font-size="12.80" font-weight="bold" fill="#111" stroke="#111" stroke-width="0.110">0.2</text>
<text transform="translate(450.76,638.70) scale(1.0921,1)" font-size="12.80" font-weight="bold" fill="#111" stroke="#111" stroke-width="0.110">0.0</text>
<text transform="translate(508.82,638.70) scale(1.0921,1)" font-size="12.80" font-weight="bold" fill="#111" stroke="#111" stroke-width="0.110">0.2</text>
<text transform="translate(566.74,638.70) scale(1.0921,1)" font-size="12.80" font-weight="bold" fill="#111" stroke="#111" stroke-width="0.110">0.4</text>
<text transform="translate(624.87,638.70) scale(1.0921,1)" font-size="12.80" font-weight="bold" fill="#111" stroke="#111" stroke-width="0.110">0.6</text>
<text transform="translate(682.93,638.70) scale(1.0921,1)" font-size="12.80" font-weight="bold" fill="#111" stroke="#111" stroke-width="0.110">0.8</text>
<text transform="translate(740.78,638.70) scale(1.0921,1)" font-size="12.80" font-weight="bold" fill="#111" stroke="#111" stroke-width="0.110">1.0</text>
</svg>
</body></html>
